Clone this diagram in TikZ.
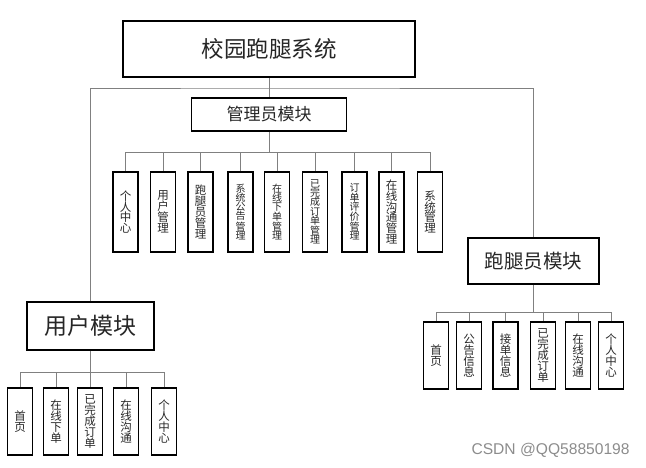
\documentclass[tikz,border=0pt]{standalone}
\usepackage{fontspec}
\newfontfamily\cjk{Noto Sans CJK SC}
\setsansfont{Liberation Sans}
\usepackage{tikz}
\usetikzlibrary{positioning}

\begin{document}
\begin{tikzpicture}
          [x=1pt,y=-1pt,
           box/.style={draw=black,line width=1.6pt,inner sep=0pt,text=black!85,font=\cjk},
           leaf/.style={box,minimum width=25pt,align=center,font=\cjk\fontsize{11.5}{10.8}\selectfont},
           small/.style={font=\cjk\fontsize{10}{9.2}\selectfont},
           wire/.style={draw=black!50,line width=0.8pt}]
          \useasboundingbox (0,0) rectangle (646,467);

          % modules
          \node[box,minimum width=292pt,minimum height=56pt,font=\cjk\fontsize{22.5}{24}\selectfont] (sys) at (269,49) {校园跑腿系统};
          \node[box,minimum width=155pt,minimum height=33pt,font=\cjk\fontsize{17}{19}\selectfont] (adm) at (269,114.5) {管理员模块};
          \node[box,minimum width=131pt,minimum height=46pt,font=\cjk\fontsize{19.5}{21}\selectfont] (run) at (533.5,261) {跑腿员模块};
          \node[box,minimum width=127pt,minimum height=48pt,font=\cjk\fontsize{23}{25}\selectfont] (usr) at (90.5,326) {用户模块};

          % admin leaves
          \node[leaf,minimum height=80pt] (a1) at (125.5,212) {个\\人\\中\\心};
          \node[leaf,minimum height=80pt] (a2) at (163,212) {用\\户\\管\\理};
          \node[leaf,minimum height=80pt] (a3) at (200.5,212) {跑\\腿\\员\\管\\理};
          \node[leaf,small,minimum height=80pt] (a4) at (240.5,212) {系\\统\\公\\告\\管\\理};
          \node[leaf,small,minimum height=80pt] (a5) at (277,212) {在\\线\\下\\单\\管\\理};
          \node[leaf,small,minimum height=80pt] (a6) at (315,212) {已\\完\\成\\订\\单\\管\\理};
          \node[leaf,small,minimum height=80pt] (a7) at (354.5,212) {订\\单\\评\\价\\管\\理};
          \node[leaf,minimum height=80pt] (a8) at (391.5,212) {在\\线\\沟\\通\\管\\理};
          \node[leaf,minimum height=80pt] (a9) at (430,212) {系\\统\\管\\理};

          % runner leaves
          \node[leaf,minimum height=67pt] (r1) at (436,355.5) {首\\页};
          \node[leaf,minimum height=67pt] (r2) at (469,355.5) {公\\告\\信\\息};
          \node[leaf,minimum height=67pt] (r3) at (505.5,355.5) {接\\单\\信\\息};
          \node[leaf,minimum height=67pt] (r4) at (543,355.5) {已\\完\\成\\订\\单};
          \node[leaf,minimum height=67pt] (r5) at (578,355.5) {在\\线\\沟\\通};
          \node[leaf,minimum height=67pt] (r6) at (611,355.5) {个\\人\\中\\心};

          % user leaves
          \node[leaf,minimum height=67pt] (u1) at (20,421.5) {首\\页};
          \node[leaf,minimum height=67pt] (u2) at (56,421.5) {在\\线\\下\\单};
          \node[leaf,minimum height=67pt] (u3) at (90,421.5) {已\\完\\成\\订\\单};
          \node[leaf,minimum height=67pt] (u4) at (126,421.5) {在\\线\\沟\\通};
          \node[leaf,minimum height=67pt] (u5) at (164,421.5) {个\\人\\中\\心};

          \node[font=\sffamily\fontsize{15.6}{17}\selectfont,text=black!45,anchor=west] (mark) at (468,450) {CSDN @QQ58850198};

          % connectors
          \coordinate (top) at (269,88);
          \coordinate (abus) at (269,152);
          \coordinate (rbus) at (533.5,312);
          \coordinate (ubus) at (90.5,372);

          \draw[wire] (sys) -- (adm);
          \draw[wire] (usr) |- (top) -| (run);
          \draw[wire] (adm) -- (abus);
          \foreach \i in {1,...,9} \draw[wire] (a\i) |- (abus);
          \draw[wire] (run) -- (rbus);
          \foreach \i in {1,...,6} \draw[wire] (r\i) |- (rbus);
          \draw[wire] (usr) -- (ubus);
          \foreach \i in {1,...,5} \draw[wire] (u\i) |- (ubus);
        \end{tikzpicture}
\end{document}
